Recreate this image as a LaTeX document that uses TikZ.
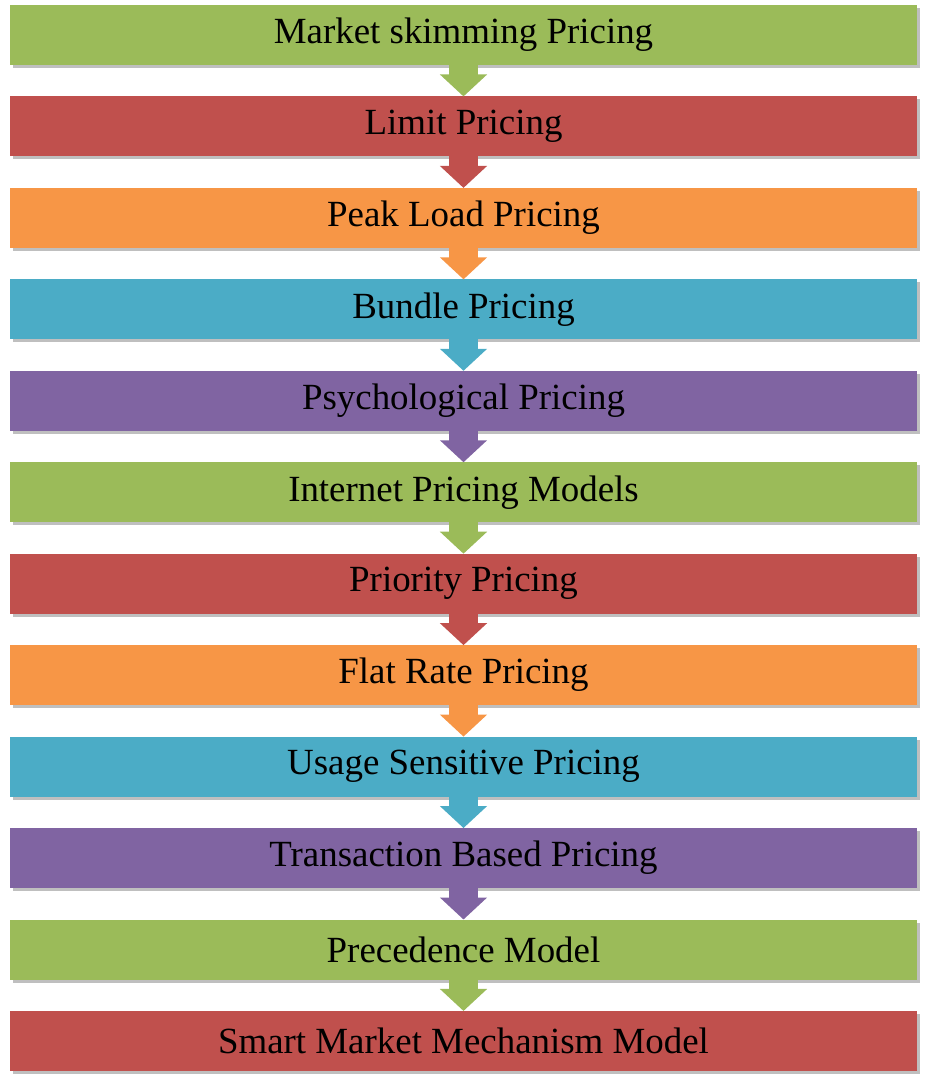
\documentclass[tikz,border=0pt]{standalone}
\usepackage{fontspec}
\setmainfont{Liberation Serif}
\usetikzlibrary{positioning,arrows.meta,shadows}

\definecolor{pgreen}{HTML}{9BBB59}
\definecolor{pred}{HTML}{C0504D}
\definecolor{porange}{HTML}{F79646}
\definecolor{pteal}{HTML}{4BACC6}
\definecolor{ppurple}{HTML}{8064A2}

\tikzset{
    bar/.style={rectangle, minimum width=18.14cm, minimum height=1.2cm, inner sep=0pt, outer sep=0pt,
        font=\fontsize{21}{24}\selectfont, text=black,
        drop shadow={shadow xshift=0.06cm, shadow yshift=-0.06cm, opacity=0.25, fill=black}},
    down/.style={-{Triangle[width=0.92cm, length=0.44cm]}, line width=0.58cm}
}

\begin{document}
\begin{tikzpicture}[node distance=0.629cm]
    % CANVAS
    \useasboundingbox (0,0) rectangle (18.56,-21.74);

    % PRICING BARS (top to bottom)
    \node[bar, fill=pgreen]   (skim)  at (9.27,-0.7) {Market skimming Pricing};
    \node[bar, fill=pred]     (limit) [below=of skim]  {Limit Pricing};
    \node[bar, fill=porange]  (peak)  [below=of limit] {Peak Load Pricing};
    \node[bar, fill=pteal]    (bundle)[below=of peak]  {Bundle Pricing};
    \node[bar, fill=ppurple]  (psych) [below=of bundle]{Psychological Pricing};
    \node[bar, fill=pgreen]   (inet)  [below=of psych] {Internet Pricing Models};
    \node[bar, fill=pred]     (prio)  [below=of inet]  {Priority Pricing};
    \node[bar, fill=porange]  (flat)  [below=of prio]  {Flat Rate Pricing};
    \node[bar, fill=pteal]    (usage) [below=of flat]  {Usage Sensitive Pricing};
    \node[bar, fill=ppurple]  (trans) [below=of usage] {Transaction Based Pricing};
    \node[bar, fill=pgreen]   (prec)  [below=of trans] {Precedence Model};
    \node[bar, fill=pred]     (smart) [below=of prec]  {Smart Market Mechanism Model};

    % DOWN ARROWS (colour of the upper bar)
    \draw[down, pgreen]  (skim.south)   -- (limit.north);
    \draw[down, pred]    (limit.south)  -- (peak.north);
    \draw[down, porange] (peak.south)   -- (bundle.north);
    \draw[down, pteal]   (bundle.south) -- (psych.north);
    \draw[down, ppurple] (psych.south)  -- (inet.north);
    \draw[down, pgreen]  (inet.south)   -- (prio.north);
    \draw[down, pred]    (prio.south)   -- (flat.north);
    \draw[down, porange] (flat.south)   -- (usage.north);
    \draw[down, pteal]   (usage.south)  -- (trans.north);
    \draw[down, ppurple] (trans.south)  -- (prec.north);
    \draw[down, pgreen]  (prec.south)   -- (smart.north);
\end{tikzpicture}
\end{document}
